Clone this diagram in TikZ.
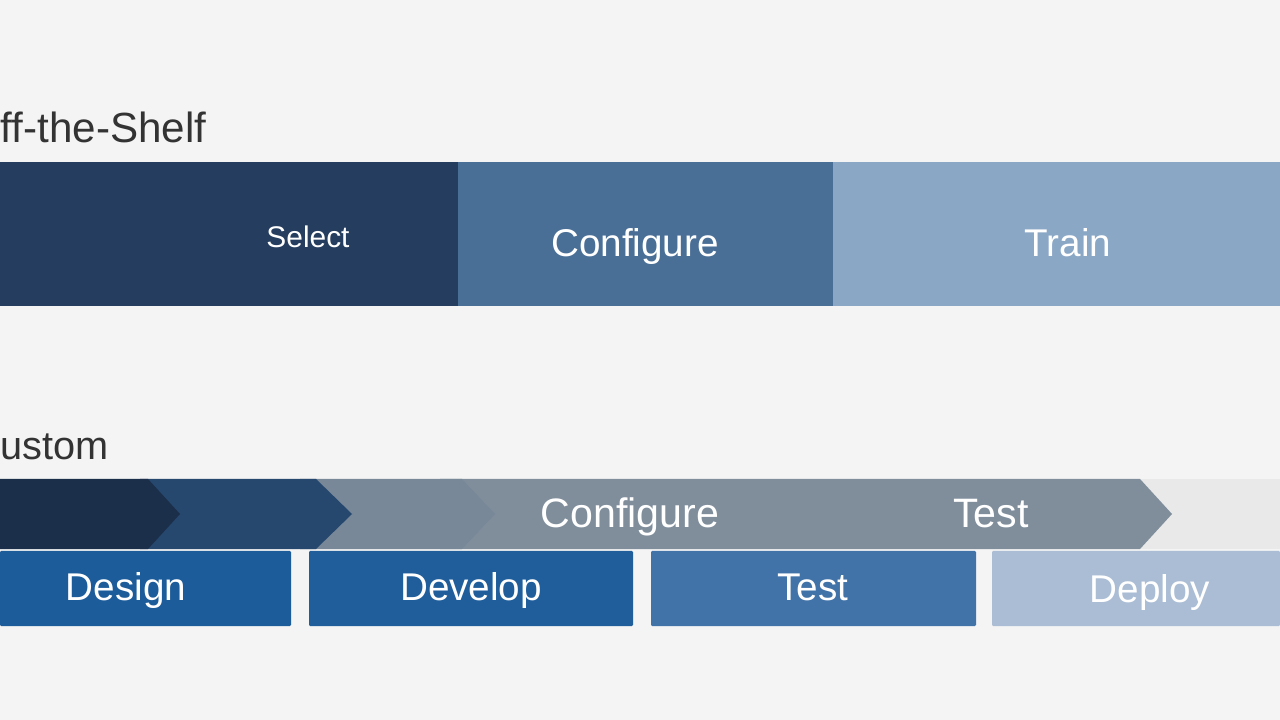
\documentclass[tikz,border=0pt]{standalone}
\usepackage{fontspec}
\setmainfont{Liberation Sans}
\usepackage{tikz}

\definecolor{bgc}{HTML}{F4F4F4}
\definecolor{navyA}{HTML}{253D5E}
\definecolor{blueA}{HTML}{4A6F96}
\definecolor{blueB}{HTML}{8BA7C6}
\definecolor{chevA}{HTML}{1B2E4A}
\definecolor{chevB}{HTML}{26486E}
\definecolor{chevC}{HTML}{788898}
\definecolor{chevD}{HTML}{808E9C}
\definecolor{fadeR}{HTML}{E9E9E9}
\definecolor{boxA}{HTML}{1C5C9A}
\definecolor{boxB}{HTML}{1F5E9B}
\definecolor{boxC}{HTML}{4273A8}
\definecolor{boxD}{HTML}{AABDD5}
\definecolor{ink}{HTML}{333333}

\begin{document}
\begin{tikzpicture}[
    title/.style={anchor=west,inner sep=0pt,text=ink,text height=8.6pt,text depth=0pt,font=\fontsize{12}{14}\selectfont},
    lbl/.style={text=white,inner sep=0pt,text height=7.9pt,text depth=0pt,font=\fontsize{11}{13}\selectfont},
    big/.style={lbl,text height=8.4pt,font=\fontsize{11.7}{14}\selectfont},
    small/.style={lbl,text height=6.1pt,font=\fontsize{8.5}{10}\selectfont},
    box/.style={rounded corners=0.3pt}]
  \fill[bgc] (0,0) rectangle (12.8,-7.2);
  \useasboundingbox (0,0) rectangle (12.8,-7.2);

  \node[title] (ots) at (0,-1.27) {ff-the-Shelf};
  \fill[navyA] (0,-1.62) rectangle (4.58,-3.06);
  \fill[blueA] (4.58,-1.62) rectangle (8.33,-3.06);
  \fill[blueB] (8.33,-1.62) rectangle (12.8,-3.06);
  \node[small] (sel) at (3.08,-2.37) {Select};
  \node[lbl] (cfg) at (6.35,-2.43) {Configure};
  \node[lbl] (trn) at (10.68,-2.43) {Train};

  \node[title,text height=8.1pt,font=\fontsize{11.3}{13}\selectfont] (cus) at (0,-4.45) {ustom};
  \fill[fadeR] (11.3,-4.79) rectangle (12.8,-5.49);
  \fill[chevD] (4.4,-4.79) -- (11.40,-4.79) -- (11.72,-5.14) -- (11.40,-5.49) -- (4.4,-5.49) -- cycle;
  \fill[chevC] (3.0,-4.79) -- (4.62,-4.79) -- (4.95,-5.14) -- (4.62,-5.49) -- (3.0,-5.49) -- cycle;
  \fill[chevB] (1.4,-4.79) -- (3.16,-4.79) -- (3.52,-5.14) -- (3.16,-5.49) -- (1.4,-5.49) -- cycle;
  \fill[chevA] (0,-4.79) -- (1.48,-4.79) -- (1.80,-5.14) -- (1.48,-5.49) -- (0,-5.49) -- cycle;
  \node[big] (ccfg) at (6.30,-5.13) {Configure};
  \node[big] (ctst) at (9.91,-5.13) {Test};

  \fill[box,boxA] (0,-5.51) rectangle (2.91,-6.26);
  \fill[box,boxB] (3.09,-5.51) rectangle (6.33,-6.26);
  \fill[box,boxC] (6.51,-5.51) rectangle (9.76,-6.26);
  \fill[box,boxD] (9.92,-5.51) rectangle (12.8,-6.26);
  \node[lbl] (dsg) at (1.26,-5.87) {Design};
  \node[lbl] (dev) at (4.71,-5.87) {Develop};
  \node[lbl] (tst) at (8.13,-5.87) {Test};
  \node[lbl] (dep) at (11.5,-5.89) {Deploy};
\end{tikzpicture}
\end{document}
